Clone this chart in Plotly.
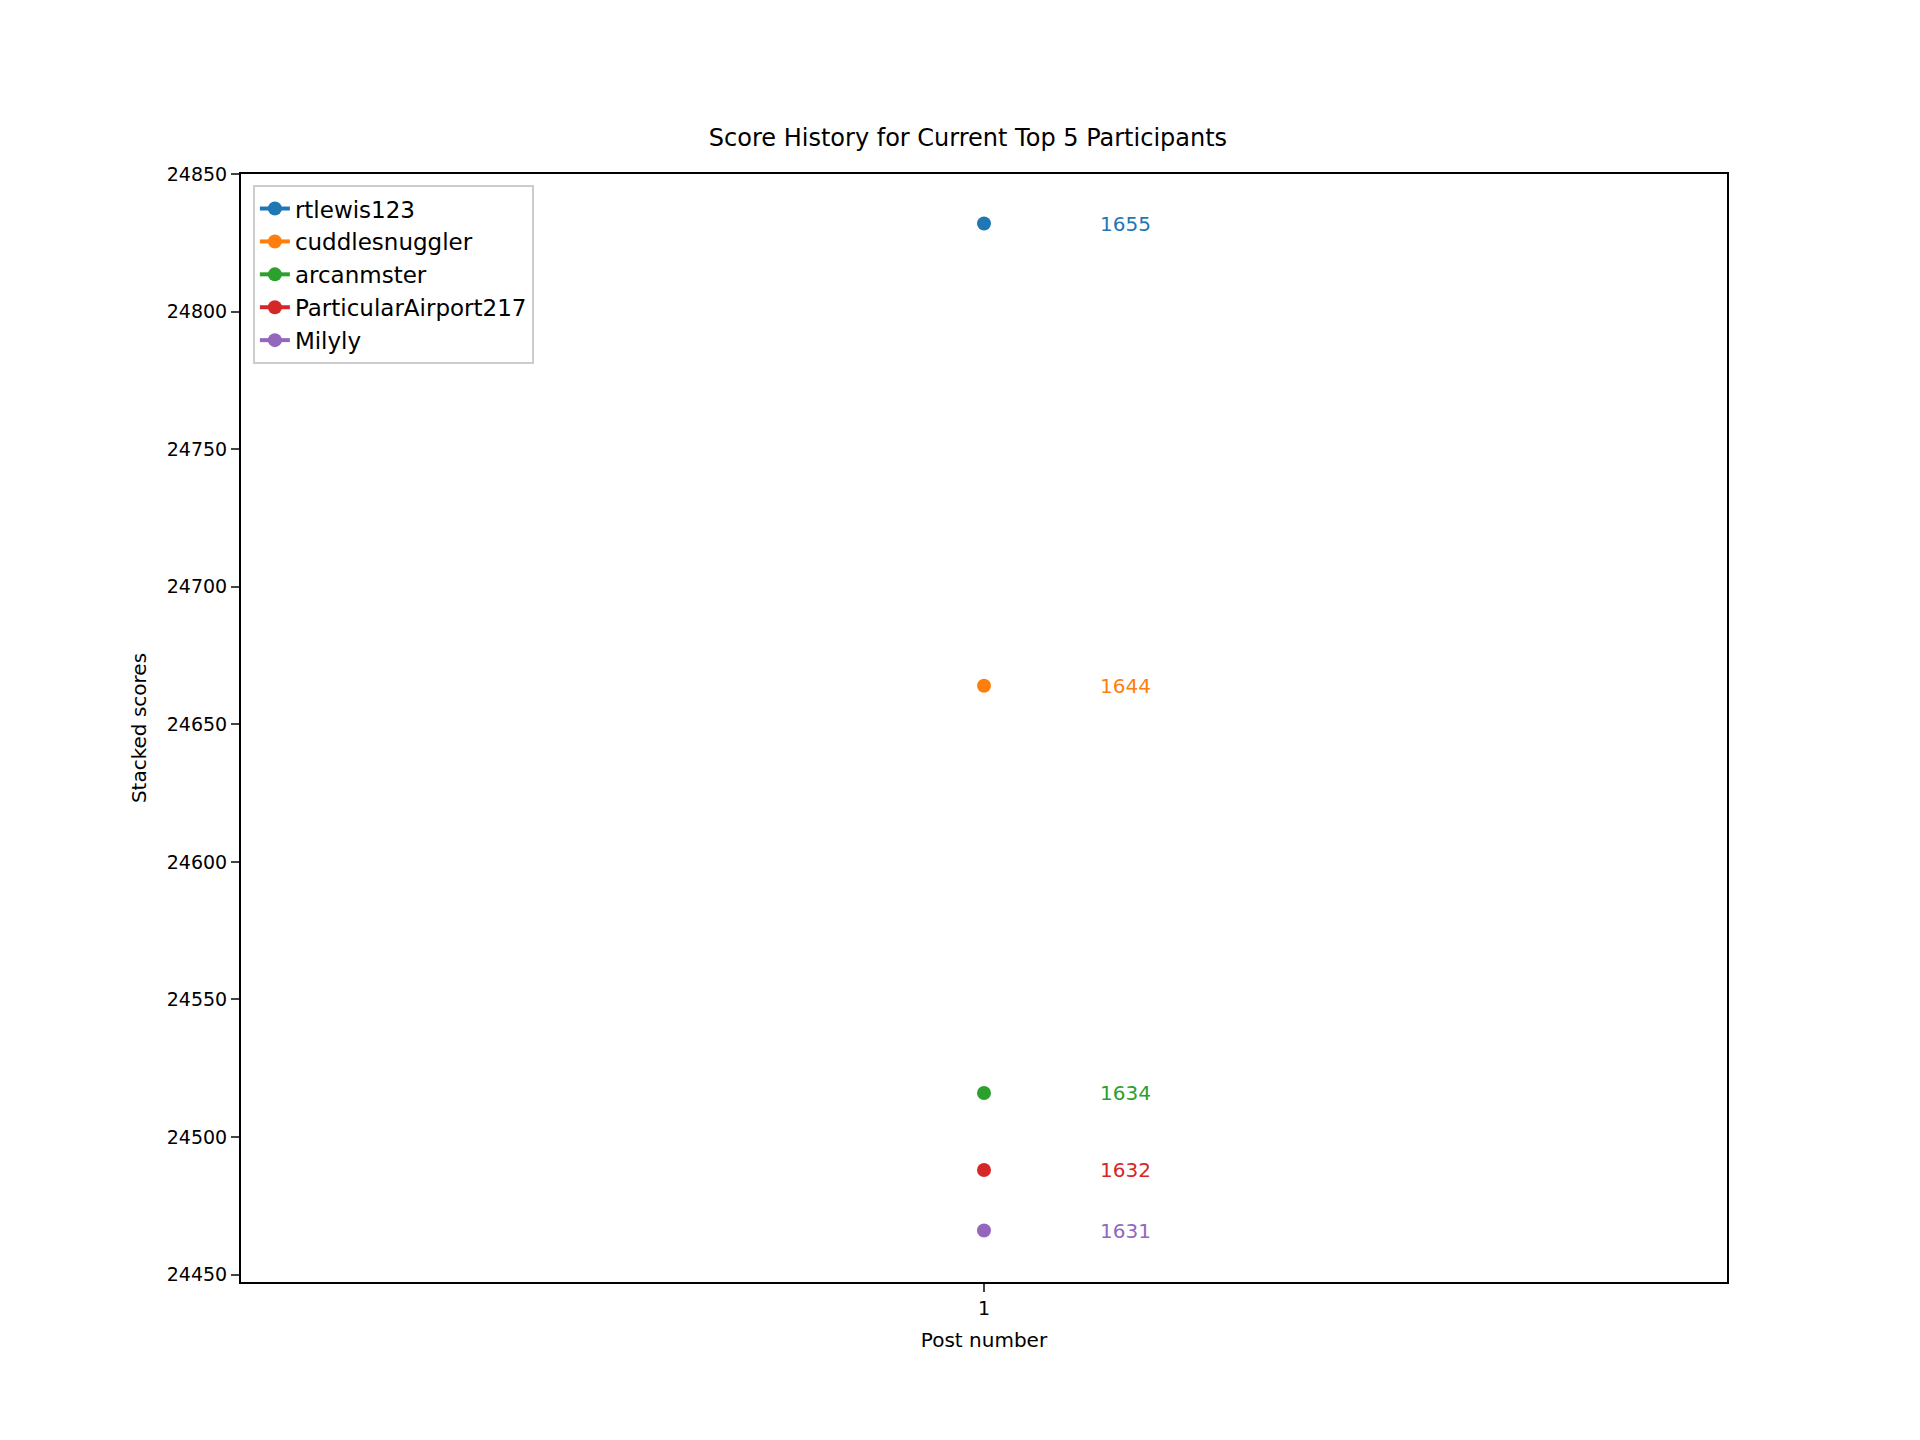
import plotly.graph_objects as go

names = ["rtlewis123", "cuddlesnuggler", "arcanmster", "ParticularAirport217", "Milyly"]
colors = ["#1f77b4", "#ff7f0e", "#2ca02c", "#d62728", "#9467bd"]
post = [1]
stacked = [24832, 24664, 24516, 24488, 24466]
scores = [1655, 1644, 1634, 1632, 1631]

fig = go.Figure()
for n, c, y, s in zip(names, colors, stacked, scores):
    fig.add_trace(go.Scatter(x=post, y=[y], mode="lines+markers", name=n,
                             line=dict(color=c, width=4), marker=dict(color=c, size=14)))
    fig.add_annotation(x=post[0] + 0.01, y=y, text=str(s), showarrow=False,
                       xanchor="left", font=dict(color=c, size=20))

ax = dict(showgrid=False, zeroline=False, showline=True, linecolor="black", linewidth=2,
          mirror=True, ticks="outside", ticklen=8, tickwidth=2, tickfont=dict(size=19, color="black"))
fig.update_layout(
    width=1920, height=1440, plot_bgcolor="white", paper_bgcolor="white",
    font=dict(family="DejaVu Sans", color="black"),
    margin=dict(l=233, r=201, t=166, b=166),
    title=dict(text="Score History for Current Top 5 Participants", x=0.5, xanchor="center",
               y=1 - 130/1440, yanchor="middle", font=dict(size=24)),
    xaxis=dict(ax, range=[0.935, 1.065], tickvals=[1], ticktext=["1"],
               title=dict(text="Post number", font=dict(size=20))),
    yaxis=dict(ax, range=[24447.3, 24850], tickvals=list(range(24450, 24851, 50)),
               tickformat="d", title=dict(text="Stacked scores", font=dict(size=20))),
    legend=dict(x=0.008, y=0.99, xanchor="left", yanchor="top", bordercolor="#cccccc",
                borderwidth=2, font=dict(size=23), bgcolor="white"),
)
fig.write_html("out.html")
